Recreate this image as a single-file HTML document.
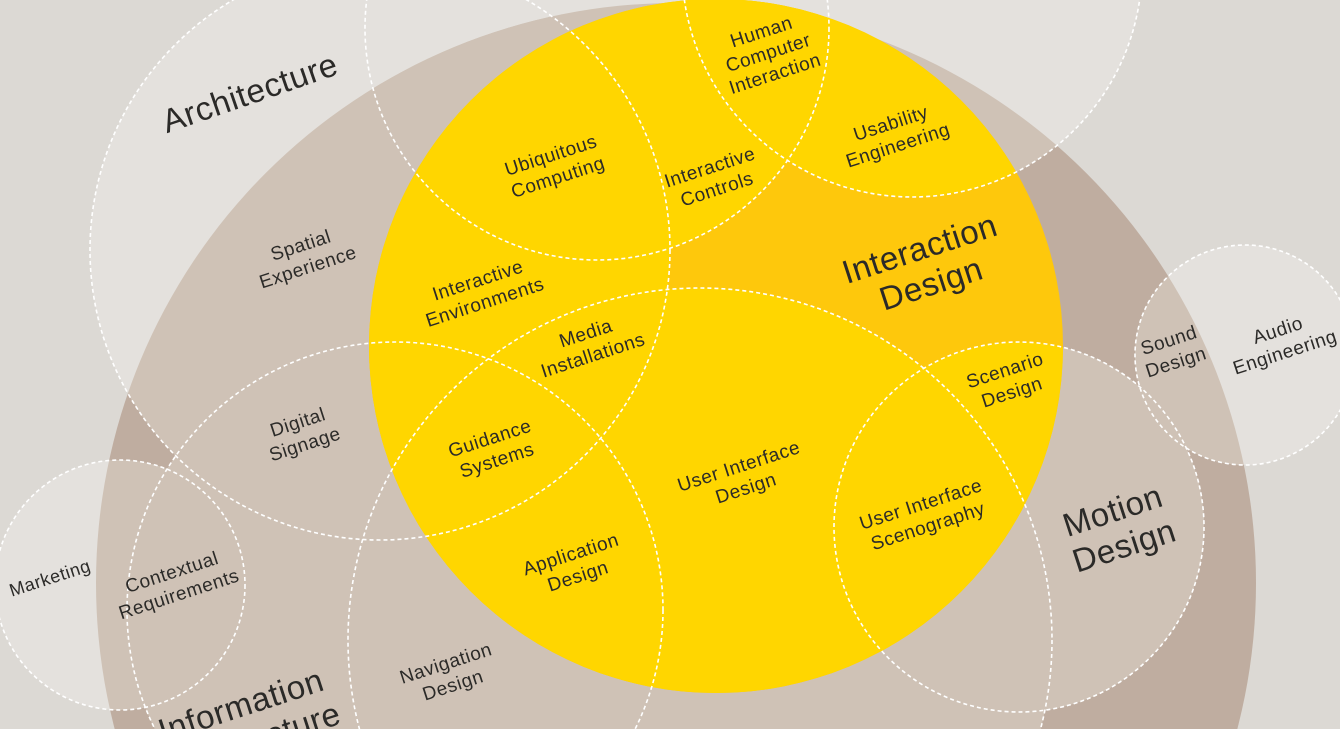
<!DOCTYPE html>
<html><head><meta charset="utf-8"><style>
html,body{margin:0;padding:0;background:#dcd9d4;width:1340px;height:729px;overflow:hidden;}
svg{display:block}
text{font-family:"Liberation Sans",sans-serif;fill:#2b2a28;letter-spacing:0.6px}
.s{font-size:19px}
.b{font-size:33px}
</style></head><body>
<svg width="1340" height="729" viewBox="0 0 1340 729" xmlns="http://www.w3.org/2000/svg" overflow="hidden">
<defs>
<clipPath id="brown"><circle cx="676" cy="583" r="580"/></clipPath>
<clipPath id="yel"><circle cx="716" cy="346" r="347"/></clipPath>
<g id="circles">
<circle cx="380" cy="250" r="290"/>
<circle cx="597" cy="28" r="232"/>
<circle cx="912" cy="-33" r="230"/>
<circle cx="700" cy="640" r="352"/>
<circle cx="395" cy="610" r="268"/>
<circle cx="120" cy="585" r="125"/>
<circle cx="1019" cy="527" r="185"/>
<circle cx="1245" cy="355" r="110"/>
</g>
</defs>
<rect width="1340" height="729" fill="#dcd9d4"/>
<circle cx="676" cy="583" r="580" fill="#bfada0"/>
<use href="#circles" fill="#e4e1dd"/>
<use href="#circles" fill="#cfc2b6" clip-path="url(#brown)"/>
<circle cx="716" cy="346" r="347" fill="#fec80c"/>
<use href="#circles" fill="#ffd600" clip-path="url(#yel)"/>
<use href="#circles" fill="none" stroke="#ffffff" stroke-width="1.6" stroke-dasharray="4 3"/>

<g>
<text class="b" transform="translate(250,93) rotate(-19)" text-anchor="middle" dy="11">Architecture</text>
<text class="s" transform="translate(768,52) rotate(-18)" text-anchor="middle"><tspan x="0" dy="-15">Human</tspan><tspan x="0" dy="22">Computer</tspan><tspan x="0" dy="22">Interaction</tspan></text>
<text class="s" transform="translate(554,165) rotate(-18)" text-anchor="middle"><tspan x="0" dy="-4">Ubiquitous</tspan><tspan x="0" dy="23">Computing</tspan></text>
<text class="s" transform="translate(713,177) rotate(-18)" text-anchor="middle"><tspan x="0" dy="-4">Interactive</tspan><tspan x="0" dy="23">Controls</tspan></text>
<text class="s" transform="translate(894,133) rotate(-18)" text-anchor="middle"><tspan x="0" dy="-4">Usability</tspan><tspan x="0" dy="23">Engineering</tspan></text>
<text class="s" transform="translate(304,255) rotate(-18)" text-anchor="middle"><tspan x="0" dy="-4">Spatial</tspan><tspan x="0" dy="23">Experience</tspan></text>
<text class="s" transform="translate(481,290) rotate(-18)" text-anchor="middle"><tspan x="0" dy="-4">Interactive</tspan><tspan x="0" dy="23">Environments</tspan></text>
<text class="b" transform="translate(925,265) rotate(-18)" text-anchor="middle"><tspan x="0" dy="-6">Interaction</tspan><tspan x="0" dy="37">Design</tspan></text>
<text class="s" transform="translate(589,343) rotate(-18)" text-anchor="middle"><tspan x="0" dy="-4">Media</tspan><tspan x="0" dy="23">Installations</tspan></text>
<text class="s" transform="translate(1172,350) rotate(-18)" text-anchor="middle"><tspan x="0" dy="-4">Sound</tspan><tspan x="0" dy="23">Design</tspan></text>
<text class="s" transform="translate(1281,340) rotate(-18)" text-anchor="middle"><tspan x="0" dy="-4">Audio</tspan><tspan x="0" dy="23">Engineering</tspan></text>
<text class="s" transform="translate(1008,380) rotate(-18)" text-anchor="middle"><tspan x="0" dy="-4">Scenario</tspan><tspan x="0" dy="23">Design</tspan></text>
<text class="s" transform="translate(301,432) rotate(-18)" text-anchor="middle"><tspan x="0" dy="-4">Digital</tspan><tspan x="0" dy="23">Signage</tspan></text>
<text class="s" transform="translate(493,448) rotate(-18)" text-anchor="middle"><tspan x="0" dy="-4">Guidance</tspan><tspan x="0" dy="23">Systems</tspan></text>
<text class="s" transform="translate(742,476) rotate(-18)" text-anchor="middle"><tspan x="0" dy="-4">User Interface</tspan><tspan x="0" dy="23">Design</tspan></text>
<text class="s" transform="translate(924,514) rotate(-18)" text-anchor="middle"><tspan x="0" dy="-4">User Interface</tspan><tspan x="0" dy="23">Scenography</tspan></text>
<text class="b" transform="translate(1118,527) rotate(-18)" text-anchor="middle"><tspan x="0" dy="-6">Motion</tspan><tspan x="0" dy="37">Design</tspan></text>
<text class="s" transform="translate(50,578) rotate(-18)" text-anchor="middle" dy="6" style="font-size:18px">Marketing</text>
<text class="s" transform="translate(175,582) rotate(-18)" text-anchor="middle"><tspan x="0" dy="-4">Contextual</tspan><tspan x="0" dy="23">Requirements</tspan></text>
<text class="s" transform="translate(574,564) rotate(-18)" text-anchor="middle"><tspan x="0" dy="-4">Application</tspan><tspan x="0" dy="23">Design</tspan></text>
<text class="s" transform="translate(449,673) rotate(-18)" text-anchor="middle"><tspan x="0" dy="-4">Navigation</tspan><tspan x="0" dy="23">Design</tspan></text>
<text class="b" transform="translate(245,718) rotate(-18)" text-anchor="middle"><tspan x="0" dy="-2">Information</tspan><tspan x="0" dy="37">Architecture</tspan></text>
</g>
</svg>
</body></html>
